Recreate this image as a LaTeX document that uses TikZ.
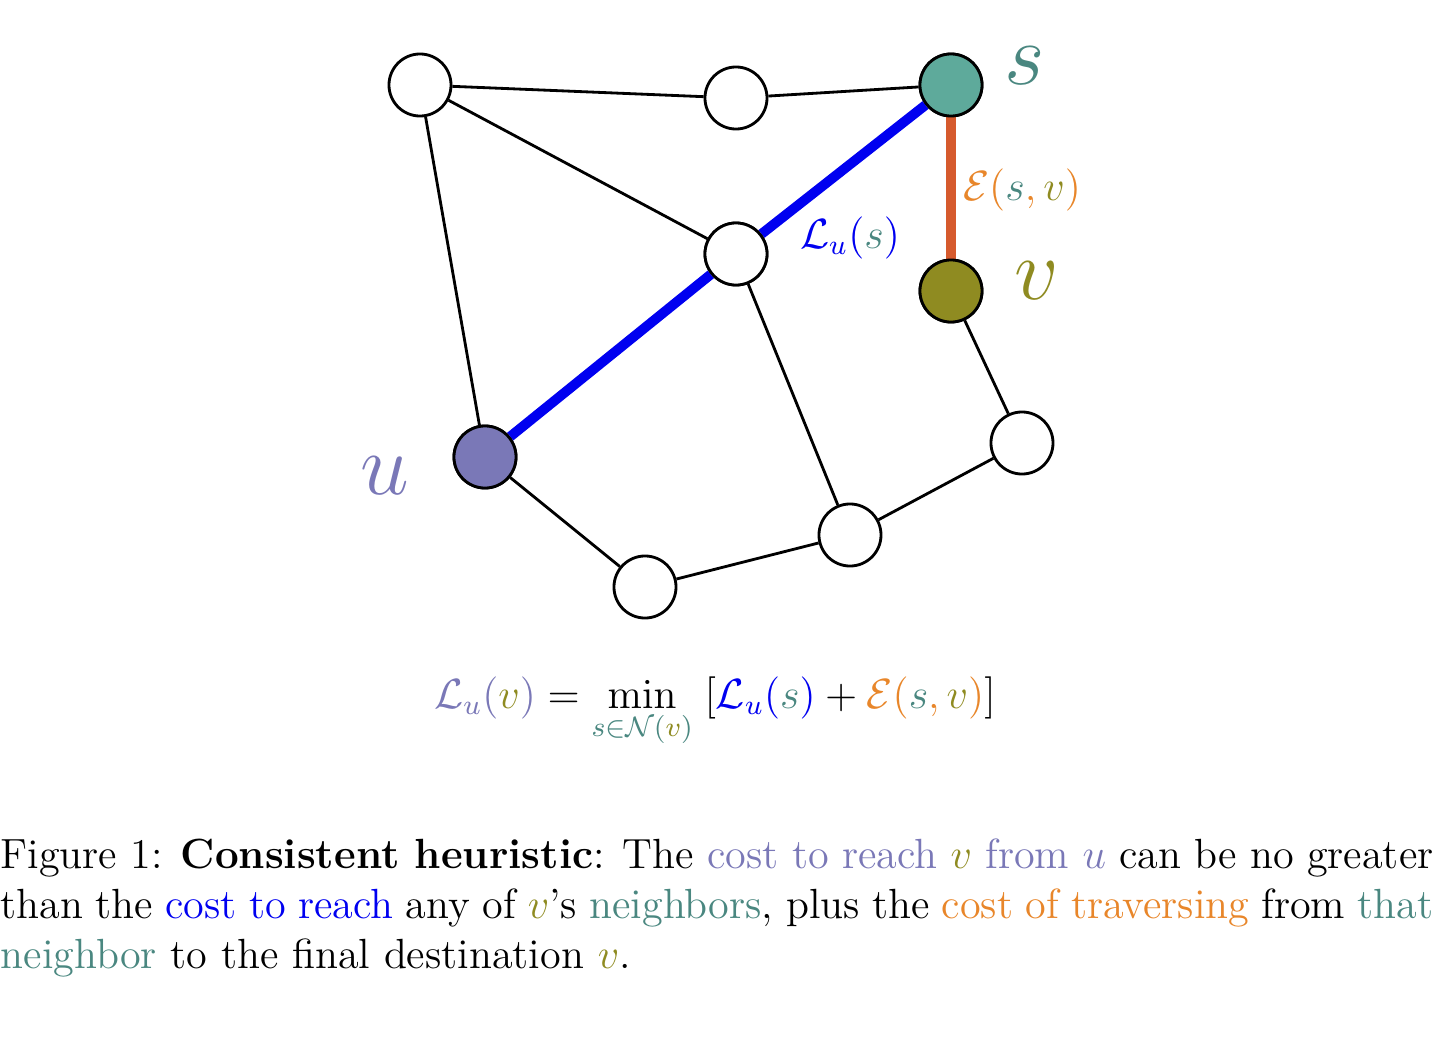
\documentclass[tikz,border=0pt]{standalone}
\usepackage{amsmath}
\definecolor{cu}{RGB}{122,120,183}
\definecolor{cs}{RGB}{94,170,155}
\definecolor{ts}{RGB}{74,135,128}
\definecolor{cv}{RGB}{143,139,33}
\definecolor{ce}{RGB}{214,90,45}
\definecolor{te}{RGB}{232,134,42}
\definecolor{cb}{RGB}{0,0,240}
\begin{document}
\begin{tikzpicture}[x=0.01cm,y=-0.01cm,
  vtx/.style={circle,draw,thick,fill=white,minimum size=0.62cm,inner sep=0pt},
  edge/.style={thick}]
\useasboundingbox (0,0) rectangle (1432,1045);
\node[vtx] (A) at (420,85) {};
\node[vtx] (B) at (736,98) {};
\node[vtx,fill=cs] (S) at (951,85) {};
\node[vtx] (C) at (736,254) {};
\node[vtx,fill=cv] (V) at (951,291) {};
\node[vtx,fill=cu] (U) at (485,457) {};
\node[vtx] (R) at (1022,443) {};
\node[vtx] (D) at (850,535) {};
\node[vtx] (E) at (645,587) {};
\draw[edge] (A)--(B) (B)--(S) (A)--(C) (A)--(U) (C)--(D) (V)--(R) (R)--(D) (D)--(E) (E)--(U);
\draw[cb,line width=2.8pt] (U)--(C) (C)--(S);
\draw[ce,line width=2.8pt] (S)--(V);
\node[vtx,fill=cs] at (S) {};
\node[vtx,fill=cv] at (V) {};
\node[vtx,fill=cu] at (U) {};
\node[vtx] at (C) {};
\node (ls) at (1025,66) {\fontsize{44}{44}\selectfont\color{ts}$s$};
\node (lv) at (1037,281) {\fontsize{44}{44}\selectfont\color{cv}$v$};
\node (lu) at (385,476) {\fontsize{44}{44}\selectfont\color{cu}$u$};
\node (le) at (1022,190) {\fontsize{12}{12}\selectfont$\color{te}\mathcal{E}(\color{ts}s\color{te},\color{cv}v\color{te})$};
\node (ll) at (850,238) {\fontsize{12}{12}\selectfont$\color{cb}\mathcal{L}_u(\color{ts}s\color{cb})$};
\node (f) at (715,712) {\fontsize{12}{14}\selectfont$\color{cu}\mathcal{L}_u(\color{cv}v\color{cu})\color{black} = \min\limits_{\color{ts}s\in\mathcal{N}(\color{cv}v\color{ts})}\;\color{black}[\color{cb}\mathcal{L}_u(\color{ts}s\color{cb})\color{black}+\color{te}\mathcal{E}(\color{ts}s\color{te},\color{cv}v\color{te})\color{black}]$};
\node[anchor=north west,inner sep=0pt,text width=14.32cm,align=justify] (cap) at (0,838) {\fontsize{12}{14.2}\selectfont Figure 1: \textbf{Consistent heuristic}: The {\color{cu}cost to reach $\color{cv}v$ from $u$} can be no greater than the {\color{cb}cost to reach} any of {\color{cv}$v$}'s {\color{ts}neighbors}, plus the {\color{te}cost of traversing} from {\color{ts}that neighbor} to the final destination {\color{cv}$v$}.\par};
\end{tikzpicture}
\end{document}
